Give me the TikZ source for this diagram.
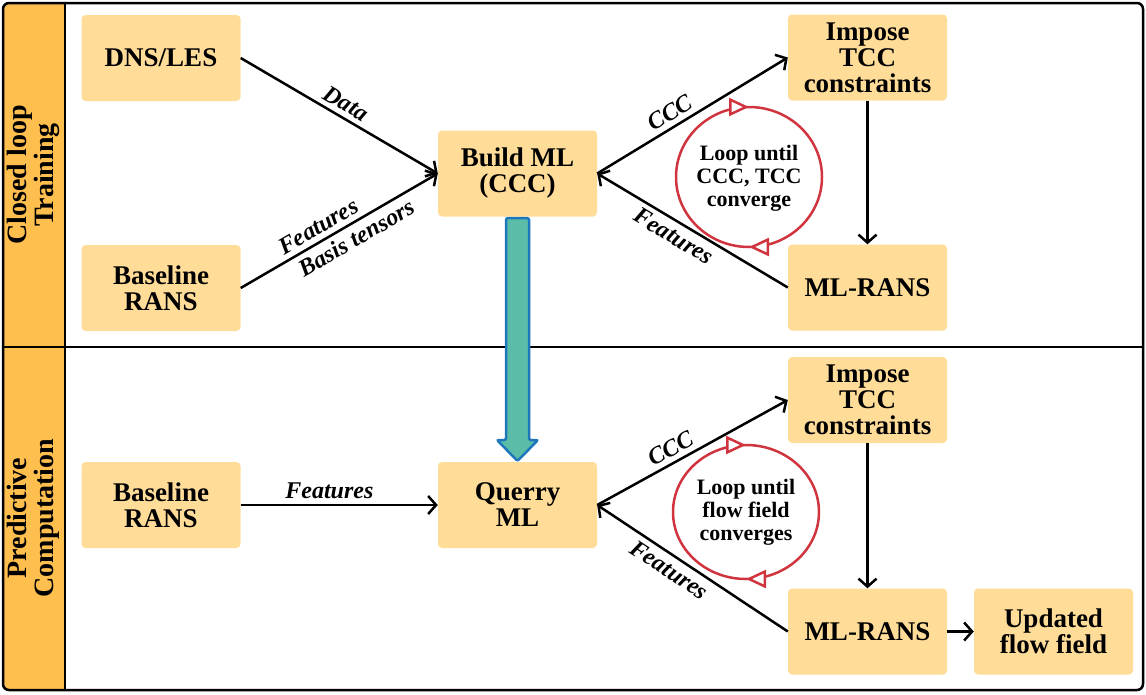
\documentclass[tikz,border=0pt]{standalone}
\usepackage{fontspec}
\setmainfont{Liberation Serif}
\usetikzlibrary{arrows.meta,decorations.markings}
\definecolor{boxfill}{HTML}{FFDD99}
\definecolor{bandfill}{HTML}{FFBF4F}
\definecolor{tealfill}{HTML}{5BBDA8}
\definecolor{tealedge}{HTML}{1F77BB}
\definecolor{loopred}{HTML}{D0343F}
\begin{document}
\begin{tikzpicture}[x=1pt,y=-1pt,
  box/.style={fill=boxfill, rounded corners=4pt, minimum width=159pt, minimum height=86pt,
    align=center, inner sep=0pt, font=\fontsize{27}{26}\selectfont\bfseries},
  conn/.style={line width=2.5pt, -{Straight Barb[length=8pt,width=18pt]}},
  lbl/.style={font=\fontsize{24}{26}\selectfont\bfseries\itshape, inner sep=5pt},
  side/.style={rotate=90, align=center, font=\fontsize{28}{27}\selectfont\bfseries},
  looptxt/.style={align=center, font=\fontsize{22}{23}\selectfont\bfseries},
  loopc/.style={draw=loopred, line width=2.5pt, postaction={decorate},
    decoration={markings,
      mark=at position 0.25 with {\arrow{Triangle[open,length=20pt,width=18pt,fill=white]}},
      mark=at position 0.75 with {\arrow{Triangle[open,length=20pt,width=18pt,fill=white]}}}}
]
\useasboundingbox (0,0) rectangle (1146,694);
% frame and band
\begin{scope}
  \clip[rounded corners=6pt] (3,3) rectangle (1143,690);
  \fill[bandfill] (0,0) rectangle (65,694);
\end{scope}
\draw[line width=2.5pt] (65,3) -- (65,690);
\draw[line width=2.5pt] (3,347) -- (1143,347);
\draw[line width=2.5pt, rounded corners=6pt] (3,3) rectangle (1143,690);
\node[side] (s1) at (33,175) {Closed loop\\Training};
\node[side] (s2) at (33,518) {Predictive\\Computation};
% nodes top
\node[box] (dns) at (161,58) {DNS/LES};
\node[box] (base1) at (161,288) {Baseline\\RANS};
\node[box] (build) at (517.5,173.5) {Build ML\\(CCC)};
\node[box] (imp1) at (867.5,57.5) {Impose\\TCC\\constraints};
\node[box] (mlr1) at (867.5,287.5) {ML-RANS};
% nodes bottom
\node[box] (base2) at (161,505) {Baseline\\RANS};
\node[box] (query) at (517.5,505) {Querry\\ML};
\node[box] (imp2) at (867.5,400) {Impose\\TCC\\constraints};
\node[box] (mlr2) at (867.5,631.5) {ML-RANS};
\node[box] (upd) at (1053.5,631.5) {Updated\\flow field};
% top connectors
\draw[conn] (dns.east) -- node[lbl, above, sloped, pos=0.5] {Data} (build.west);
\draw[conn] (base1.east) -- node[lbl, above, sloped, pos=0.43] {Features}
  node[lbl, below, sloped, pos=0.55] {Basis tensors} (build.west);
\draw[conn] (build.east) -- node[lbl, above, sloped, pos=0.42] {CCC} (imp1.west);
\draw[conn] (mlr1.west) -- node[lbl, below, sloped, pos=0.56] {Features} (build.east);
\draw[conn] (imp1.south) -- (mlr1.north);
% bottom connectors
\draw[conn] (base2.east) -- node[lbl, above, pos=0.45] {Features} (query.west);
\draw[conn] (query.east) -- node[lbl, above, sloped, pos=0.42] {CCC} (imp2.west);
\draw[conn] (mlr2.west) -- node[lbl, below, sloped, pos=0.58] {Features} (query.east);
\draw[conn] (imp2.south) -- (mlr2.north);
\draw[conn] (mlr2.east) -- (upd.west);
% loops
\draw[loopc] (749,177) ellipse [x radius=73, y radius=70];
\node[looptxt] (l1) at (749,178) {Loop until\\CCC, TCC\\converge};
\draw[loopc] (746,512) ellipse [x radius=73, y radius=67];
\node[looptxt] (l2) at (746,512) {Loop until\\flow field\\converges};
% teal arrow
\draw[fill=tealfill, draw=tealedge, line width=2.5pt, rounded corners=2pt]
  (506,218) -- (506,440) -- (497,440) -- (517.5,461) -- (538,440) -- (529,440) -- (529,218) -- cycle;
\end{tikzpicture}
\end{document}
